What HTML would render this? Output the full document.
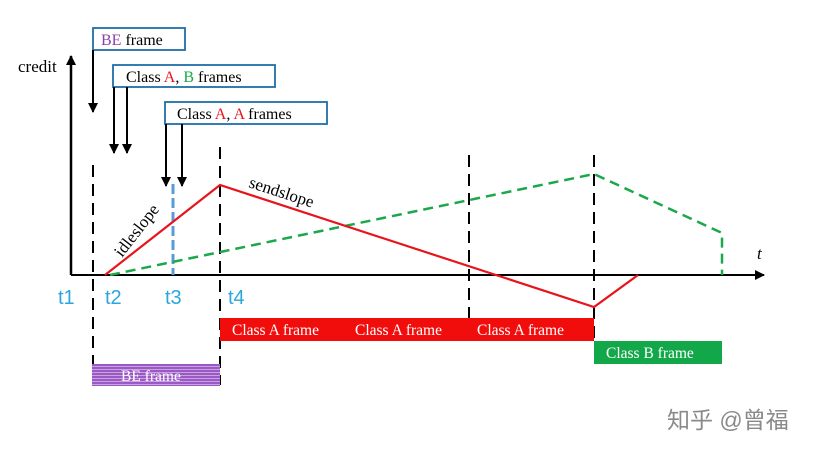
<!DOCTYPE html>
<html><head><meta charset="utf-8"><style>
body{margin:0;background:#fff;}
svg text{font-family:"Liberation Serif",serif;}
svg .sans{font-family:"Liberation Sans",sans-serif;}
svg .cjk{font-family:"Liberation Sans","Noto Sans CJK SC",sans-serif;}
</style></head><body>
<svg width="820" height="452" viewBox="0 0 820 452" xmlns="http://www.w3.org/2000/svg">
<defs>
<marker id="ah" markerWidth="10" markerHeight="10" refX="9" refY="5" orient="auto" markerUnits="userSpaceOnUse"><path d="M0,0 L10,5 L0,10 z" fill="#000"/></marker>
<pattern id="stripe" width="4" height="3" patternUnits="userSpaceOnUse"><rect width="4" height="3" fill="#9b59c6"/><rect width="4" height="1" fill="#c9a3e0"/></pattern>
</defs>
<line x1="71" y1="275" x2="71" y2="56" stroke="#000" stroke-width="2.5" marker-end="url(#ah)"/>
<line x1="71" y1="275" x2="764" y2="275" stroke="#000" stroke-width="2" marker-end="url(#ah)"/>
<text x="18" y="72" font-size="17">credit</text>
<text x="757" y="259" font-size="17" font-style="italic">t</text>
<g stroke="#000" stroke-width="2" stroke-dasharray="12,7">
<line x1="93" y1="165" x2="93" y2="365"/>
<line x1="220" y1="147" x2="220" y2="385"/>
<line x1="469" y1="155" x2="469" y2="335"/>
<line x1="594" y1="155" x2="594" y2="340"/>
</g>
<line x1="173" y1="184" x2="173" y2="275" stroke="#5b9bd5" stroke-width="3" stroke-dasharray="10,4"/>
<polyline points="110,275 594,174 722,233 722,275" fill="none" stroke="#1aa84a" stroke-width="2.5" stroke-dasharray="10,6"/>
<polyline points="105,275 220,185 594,307 638,275" fill="none" stroke="#e8141c" stroke-width="2.2"/>
<text font-size="17" transform="translate(122,258) rotate(-52)">idleslope</text>
<text font-size="17" transform="translate(248,187) rotate(18)">sendslope</text>
<rect x="93" y="28" width="92" height="22" fill="#fff" stroke="#1f6fa8" stroke-width="1.8"/>
<text x="101" y="45" font-size="16"><tspan fill="#8a3fb0">BE</tspan> frame</text>
<rect x="113" y="65" width="162" height="22" fill="#fff" stroke="#1f6fa8" stroke-width="1.8"/>
<text x="126" y="82" font-size="16">Class <tspan fill="#e8141c">A</tspan>, <tspan fill="#1aa84a">B</tspan> frames</text>
<rect x="165" y="102" width="162" height="22" fill="#fff" stroke="#1f6fa8" stroke-width="1.8"/>
<text x="177" y="119" font-size="16">Class <tspan fill="#e8141c">A</tspan>, <tspan fill="#e8141c">A</tspan> frames</text>
<g stroke="#000" stroke-width="2">
<line x1="93" y1="50" x2="93" y2="112" marker-end="url(#ah)"/>
<line x1="114" y1="87" x2="114" y2="153" marker-end="url(#ah)"/>
<line x1="127" y1="87" x2="127" y2="153" marker-end="url(#ah)"/>
<line x1="166" y1="124" x2="166" y2="186" marker-end="url(#ah)"/>
<line x1="182" y1="124" x2="182" y2="186" marker-end="url(#ah)"/>
</g>
<g fill="#2aa7dd" font-size="20" class="sans" font-family="Liberation Sans, sans-serif">
<text class="sans" x="58" y="304">t1</text>
<text class="sans" x="105" y="304">t2</text>
<text class="sans" x="165" y="304">t3</text>
<text class="sans" x="228" y="304">t4</text>
</g>
<rect x="220" y="318" width="374" height="23" fill="#f20d0d"/>
<g fill="#fff" font-size="15.5">
<text x="232" y="335">Class A frame</text>
<text x="355" y="335">Class A frame</text>
<text x="477" y="335">Class A frame</text>
</g>
<rect x="594" y="341" width="128" height="23" fill="#12a84a"/>
<text x="606" y="358" fill="#fff" font-size="15.5">Class B frame</text>
<rect x="92" y="364" width="128" height="22" fill="url(#stripe)"/>
<text x="121" y="381" fill="#fff" font-size="15.5">BE frame</text>
<text class="cjk" x="667" y="428" fill="#8a8a8a" font-size="23">知乎 @曾福</text>
</svg>
</body></html>
